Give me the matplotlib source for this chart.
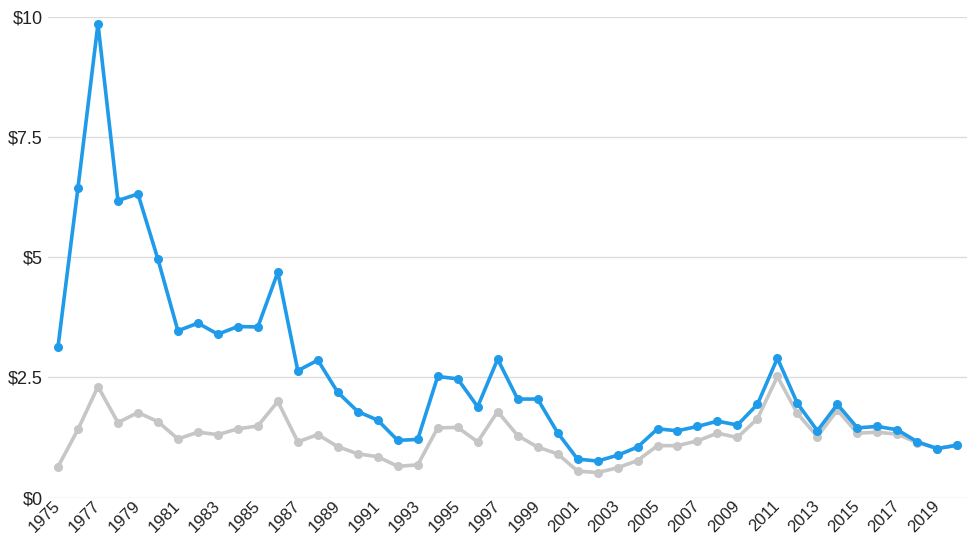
import matplotlib.pyplot as plt
import matplotlib.transforms as mtransforms
from matplotlib.ticker import FuncFormatter

plt.rcParams["font.family"] = ["Liberation Sans", "DejaVu Sans"]

years = list(range(1975, 2021))

blue_values = [
    3.14, 6.45, 9.86, 6.18, 6.32, 4.96, 3.47, 3.63, 3.40, 3.56,
    3.55, 4.69, 2.64, 2.86, 2.19, 1.79, 1.61, 1.19, 1.21, 2.52,
    2.47, 1.89, 2.88, 2.05, 2.05, 1.35, 0.80, 0.76, 0.88, 1.05,
    1.43, 1.39, 1.48, 1.59, 1.51, 1.94, 2.90, 1.96, 1.39, 1.94,
    1.45, 1.48, 1.41, 1.16, 1.02, 1.09,
]

gray_values = [
    0.64, 1.42, 2.31, 1.56, 1.77, 1.58, 1.22, 1.36, 1.31, 1.43,
    1.49, 2.00, 1.16, 1.31, 1.06, 0.91, 0.85, 0.65, 0.68, 1.45,
    1.46, 1.16, 1.79, 1.29, 1.05, 0.91, 0.55, 0.52, 0.62, 0.77,
    1.08, 1.08, 1.18, 1.34, 1.25, 1.64, 2.52, 1.75, 1.27, 1.82,
    1.34, 1.36, 1.32, 1.14, 1.02, 1.09,
]

y_ticks = [0, 2.5, 5, 7.5, 10]
x_ticks = years[::2]


def money(v, _pos):
    return f"${v:g}"


fig = plt.figure(figsize=(9.8, 5.51), dpi=100)
ax = fig.add_axes([0.049, 0.097, 0.938, 0.872])

ax.plot(years, gray_values, color="#c6c6c6", lw=2.6, marker="o", ms=5.5,
        zorder=2, clip_on=False)
ax.plot(years, blue_values, color="#1f9be9", lw=2.6, marker="o", ms=5.5,
        zorder=3, clip_on=False)

ax.set_xlim(1974.5, 2020.5)
ax.set_ylim(0, 10)
ax.set_yticks(y_ticks)
ax.yaxis.set_major_formatter(FuncFormatter(money))
ax.set_xticks(x_ticks)
ax.set_xticklabels([str(y) for y in x_ticks], rotation=45, ha="right",
                   va="center", rotation_mode="anchor")
shift = mtransforms.ScaledTranslation(0.07, -0.05, fig.dpi_scale_trans)
for lab in ax.get_xticklabels():
    lab.set_transform(lab.get_transform() + shift)

ax.grid(axis="y", color="#dcdcdc", lw=1)
ax.set_axisbelow(True)
for s in ax.spines.values():
    s.set_visible(False)
ax.tick_params(axis="both", length=0, colors="#222222")
ax.tick_params(axis="y", labelsize=13, pad=4)
ax.tick_params(axis="x", labelsize=12, pad=4)

fig.savefig("out.png", dpi=100)
